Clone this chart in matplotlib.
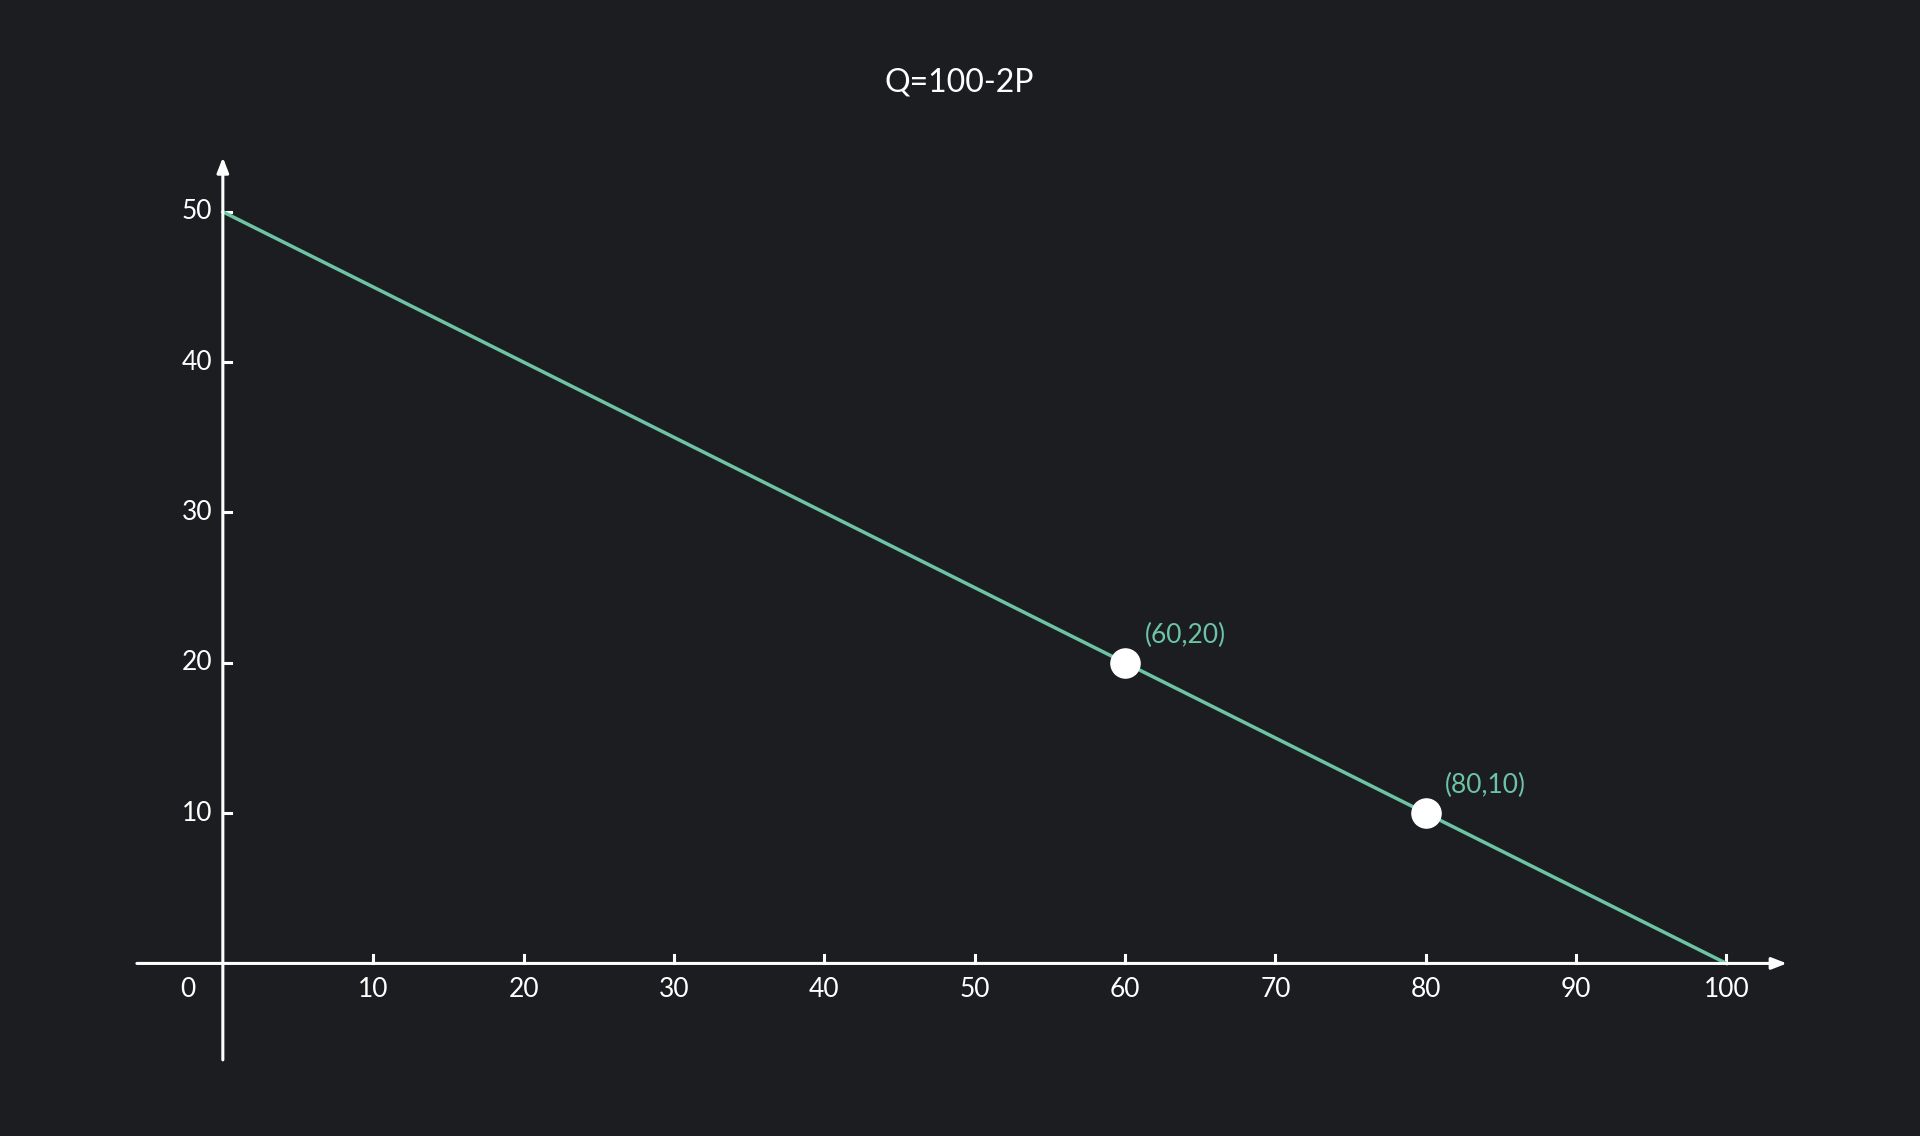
import matplotlib
matplotlib.use("Agg")
import matplotlib.pyplot as plt
import numpy as np

title = "Q=100-2P"
line_x = [0, 100]
line_y = [50, 0]
pts_x = [60, 80]
pts_y = [20, 10]
pt_labels = ["(60,20)", "(80,10)"]
xticks = [10, 20, 30, 40, 50, 60, 70, 80, 90, 100]
yticks = [10, 20, 30, 40, 50]

bg = "#1c1d21"
green = "#6cc4a4"
plt.rcParams['font.family'] = ['Lato', 'DejaVu Sans']
fig = plt.figure(figsize=(19.2, 11.36), dpi=100, facecolor=bg)
ax = fig.add_axes([0, 0, 1, 1])
ax.set_facecolor(bg)
ax.axis("off")
ax.set_xlim(-14.82, 112.87)
ax.set_ylim(-11.48, 64.09)

# axes
ax.annotate("", xy=(104.2, 0), xytext=(-5.9, 0),
            arrowprops=dict(arrowstyle="-|>,head_length=0.9,head_width=0.35", color="white", lw=2.2))
ax.annotate("", xy=(0, 53.8), xytext=(0, -6.6),
            arrowprops=dict(arrowstyle="-|>,head_length=0.9,head_width=0.35", color="white", lw=2.2))
for t in xticks:
    ax.plot([t, t], [0, 0.55], color="white", lw=2.2)
    ax.text(t, -0.9, str(t), color="white", fontsize=19, ha="center", va="top")
for t in yticks:
    ax.plot([0, 0.55], [t, t], color="white", lw=2.2)
    ax.text(-0.7, t, str(t), color="white", fontsize=19, ha="right", va="center")
ax.text(-2.3, -0.9, "0", color="white", fontsize=19, ha="center", va="top")

ax.plot(line_x, line_y, color=green, lw=2.5)
ax.plot(pts_x, pts_y, "o", color="white", ms=21, zorder=5)
for x, y, l in zip(pts_x, pts_y, pt_labels):
    ax.text(x + 1.3, y + 1.0, l, color=green, fontsize=19, ha="left", va="bottom")

ax.text(49.0, 58.6, title, color="white", fontsize=23, ha="center", va="center")
fig.savefig("out.png", dpi=100, facecolor=bg)
